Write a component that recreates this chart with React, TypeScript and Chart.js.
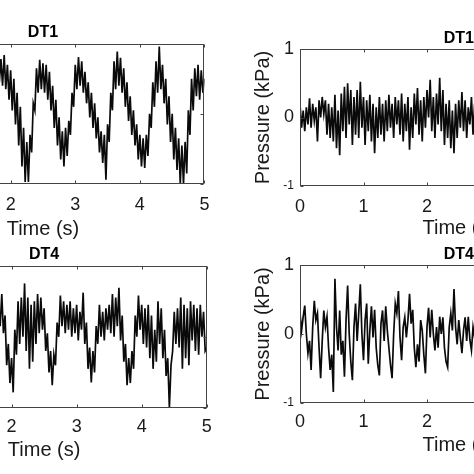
import React, { useEffect, useRef } from "react";
import { Chart, registerables } from "chart.js";

Chart.register(...registerables);

// Sampling of the pressure records (seconds)
const SAMPLE_STEP = 0.025;
const CASE_A_START = 1.8;
const CASE_B_START = 0.0;

// Axis ranges / ticks
const TIME_RANGE = [0, 5];
const PRESSURE_RANGE = [-1, 1];
const X_TITLE = "Time (s)";
const Y_TITLE = "Pressure (kPa)";

// Case A, transducer DT1 (kPa)
const dt1CaseA = [
  0.75, 0.45, 0.78, 0.4, 0.84, 0.35, 0.7, 0.2, 0.62, 0.05,
  0.5, -0.15, 0.3, -0.45, 0.1, -0.75, -0.2, -0.97, -0.4, -0.97,
  -0.3, -0.55, 0.15, 0.05, 0.65, 0.3, 0.77, 0.35, 0.72, 0.3,
  0.7, 0.2, 0.6, 0.05, 0.4, -0.2, 0.2, -0.45, -0.05, -0.65,
  -0.25, -0.75, -0.2, -0.6, -0.1, -0.3, 0.3, 0.1, 0.7, 0.35,
  0.81, 0.4, 0.75, 0.3, 0.6, 0.15, 0.45, -0.05, 0.3, -0.2,
  0.15, -0.35, -0.05, -0.55, -0.25, -0.7, -0.3, -0.94, -0.15, -0.4,
  0.3, 0.05, 0.75, 0.35, 0.89, 0.4, 0.8, 0.3, 0.65, 0.1,
  0.45, -0.1, 0.25, -0.3, 0.05, -0.45, -0.15, -0.65, -0.3, -0.75,
  -0.35, -0.77, -0.3, -0.6, 0.0, -0.2, 0.45, 0.1, 0.75, 0.3,
  0.96, 0.35, 0.7, 0.15, 0.5, -0.15, 0.25, -0.4, 0.0, -0.65,
  -0.2, -0.8, -0.35, -1.0, -0.45, -1.0, -0.4, -0.85, 0.05, -0.3,
  0.5, 0.05, 0.65, 0.25, 0.7, 0.2, 0.62, 0.3, 0.5,
];

// Case A, transducer DT4 (kPa)
const dt4CaseA = [
  0.45, 0.15, 0.6, 0.05, 0.3, -0.4, -0.1, -0.65, -0.3, -0.78,
  0.1, -0.25, 0.5, -0.1, 0.55, 0.0, 0.75, -0.2, 0.55, -0.45,
  0.45, -0.35, 0.5, -0.1, 0.6, 0.05, 0.55, 0.1, 0.4, -0.2,
  0.05, -0.5, -0.2, -0.68, -0.25, -0.4, 0.2, 0.0, 0.58, 0.15,
  0.5, 0.05, 0.45, 0.1, 0.5, 0.0, 0.4, 0.05, 0.45, -0.05,
  0.35, 0.1, 0.62, -0.1, 0.2, -0.45, -0.15, -0.64, -0.2, -0.5,
  0.15, -0.1, 0.45, 0.0, 0.35, -0.05, 0.4, 0.1, 0.45, 0.05,
  0.6, 0.0, 0.55, 0.15, 0.69, -0.05, 0.3, -0.35, -0.1, -0.68,
  -0.3, -0.65, -0.2, -0.45, 0.3, 0.0, 0.58, 0.1, 0.45, -0.1,
  0.4, -0.15, 0.45, -0.3, 0.3, -0.45, 0.1, -0.35, 0.5, -0.1,
  0.4, -0.3, 0.1, -0.55, -0.3, -1.0, -0.4, -0.2, 0.35, -0.1,
  0.4, -0.15, 0.55, -0.45, 0.45, -0.3, 0.4, -0.4, 0.5, -0.05,
  0.45, -0.2, 0.4, -0.25, 0.45, 0.0, 0.35, -0.2, -0.15,
];

// Case B, transducer DT1 (kPa)
const dt1CaseB = [
  0.2, -0.15, 0.1, -0.2, 0.15, -0.1, 0.28, -0.15, 0.2, -0.05,
  0.15, -0.35, 0.25, 0.0, 0.3, 0.05, 0.25, -0.25, 0.2, -0.3,
  0.15, -0.35, 0.33, -0.45, 0.1, -0.55, 0.35, -0.2, 0.45, -0.3,
  0.5, -0.1, 0.4, -0.4, 0.3, -0.25, 0.4, -0.3, 0.52, -0.15,
  0.3, -0.4, 0.25, -0.2, 0.33, -0.35, 0.2, -0.52, 0.15, -0.3,
  0.3, -0.25, 0.2, -0.35, 0.25, -0.2, 0.33, -0.15, 0.2, -0.3,
  0.3, -0.1, 0.25, -0.25, 0.35, -0.35, 0.2, -0.2, 0.3, -0.47,
  0.15, -0.3, 0.35, -0.1, 0.43, -0.25, 0.25, -0.35, 0.3, -0.15,
  0.4, 0.0, 0.55, -0.2, 0.3, -0.3, 0.35, -0.1, 0.58, -0.2,
  0.4, -0.4, 0.2, -0.3, 0.25, -0.45, 0.1, -0.52, 0.2, -0.3,
  0.25, -0.15, 0.37, -0.2, 0.25, -0.3, 0.15, -0.1, 0.3, -0.25,
  0.2, -0.2, 0.1,
];

// Case B, transducer DT4 (kPa)
const dt4CaseB = [
  0.3, 0.05, 0.25, 0.41, 0.0, -0.28, -0.1, -0.52, 0.1, 0.48,
  0.2, 0.3, -0.2, -0.64, -0.1, 0.34, 0.1, 0.25, -0.2, -0.52,
  -0.3, -0.84, 0.8, 0.1, -0.24, 0.34, -0.3, -0.1, -0.62, 0.2,
  0.7, 0.0, -0.4, -0.67, 0.1, 0.44, -0.1, 0.3, 0.72, 0.0,
  -0.38, 0.2, 0.44, -0.43, 0.05, 0.4, -0.05, 0.35, -0.2, -0.45,
  -0.6, 0.15, 0.34, -0.1, 0.4, 0.05, -0.2, -0.45, -0.64, 0.0,
  0.44, 0.3, 0.62, -0.05, -0.38, 0.1, 0.24, -0.05, 0.2, 0.58,
  0.15, 0.35, -0.2, -0.48, -0.15, -0.4, 0.2, 0.05, -0.3, -0.57,
  0.1, 0.38, -0.05, 0.35, 0.0, -0.24, 0.1, -0.2, 0.25, 0.0,
  0.24, -0.2, -0.4, -0.48, 0.1, 0.3, 0.05, 0.65, 0.1, -0.15,
  0.2, -0.05, -0.28, 0.05, 0.24, -0.1, 0.25, -0.08, -0.24, 0.1,
  -0.05, 0.2, -0.1,
];

const FONT = "'Liberation Sans', Arial, Helvetica, sans-serif";
const INK = "#1a1a1a";

type Panel = {
  title: string;
  values: number[];
  start: number;
  left: number;
  top: number;
  width: number;
  height: number;
  axisWidth: number;
  axisHeight: number;
  rightPad: number;
  titleTop: number;
  titleBottom: number;
  tickPad: number;
  xTitlePad: number;
};

const panels: Panel[] = [
  { title: "DT1", values: dt1CaseA, start: CASE_A_START, left: -180, top: 0, width: 400, height: 245,
    axisWidth: 61.4, axisHeight: 61, rightPad: 12, titleTop: 22.7, titleBottom: 1.8, tickPad: 10.5, xTitlePad: 4 },
  { title: "DT1", values: dt1CaseB, start: CASE_B_START, left: 237, top: 0, width: 400, height: 245,
    axisWidth: 63, axisHeight: 59, rightPad: 19.5, titleTop: 28.7, titleBottom: 1.1, tickPad: 10, xTitlePad: 5 },
  { title: "DT4", values: dt4CaseA, start: CASE_A_START, left: -180, top: 245, width: 400, height: 229,
    axisWidth: 61.4, axisHeight: 66, rightPad: 12, titleTop: 0, titleBottom: 1.4, tickPad: 8.2, xTitlePad: 12 },
  { title: "DT4", values: dt4CaseB, start: CASE_B_START, left: 237, top: 245, width: 400, height: 229,
    axisWidth: 63, axisHeight: 71, rightPad: 19.5, titleTop: 0, titleBottom: 0.7, tickPad: 8.5, xTitlePad: 17 },
];

// Boxed axes with short inward tick marks on all four sides
const boxAxes = {
  id: "boxAxes",
  afterDatasetsDraw(chart: any) {
    const { ctx, chartArea: a, scales } = chart;
    const L = Math.round(a.left) + 0.5;
    const R = Math.round(a.right) - 0.5;
    const T = Math.round(a.top) + 0.5;
    const B = Math.round(a.bottom) - 0.5;
    ctx.save();
    ctx.strokeStyle = "#444444";
    ctx.lineWidth = 1;
    ctx.strokeRect(L, T, R - L, B - T);
    ctx.beginPath();
    const len = 3;
    scales.x.ticks.forEach((t: any) => {
      const px = Math.round(scales.x.getPixelForValue(t.value)) + 0.5;
      ctx.moveTo(px, B);
      ctx.lineTo(px, B - len);
      ctx.moveTo(px, T);
      ctx.lineTo(px, T + len);
    });
    scales.y.ticks.forEach((t: any) => {
      const py = Math.round(scales.y.getPixelForValue(t.value)) + 0.5;
      ctx.moveTo(L, py);
      ctx.lineTo(L + len, py);
      ctx.moveTo(R, py);
      ctx.lineTo(R - len, py);
    });
    ctx.stroke();
    ctx.restore();
  },
};

function PressurePanel({ p }: { p: Panel }) {
  const ref = useRef<HTMLCanvasElement | null>(null);

  useEffect(() => {
    if (!ref.current) return;
    const points = p.values.map((v, i) => ({ x: p.start + i * SAMPLE_STEP, y: v }));
    const chart = new Chart(ref.current, {
      type: "line",
      data: {
        datasets: [
          {
            data: points,
            borderColor: "#0a0a0a",
            borderWidth: 1.7,
            pointRadius: 0,
            tension: 0,
          },
        ],
      },
      options: {
        animation: false,
        responsive: false,
        maintainAspectRatio: false,
        events: [],
        layout: { padding: { left: 0, right: p.rightPad, top: 0, bottom: 0 } },
        plugins: {
          legend: { display: false },
          tooltip: { enabled: false },
          title: {
            display: true,
            text: p.title,
            fullSize: false,
            color: "#000",
            font: { family: FONT, size: 16, weight: "bold", lineHeight: 1.2 },
            padding: { top: p.titleTop, bottom: p.titleBottom },
          },
        },
        scales: {
          x: {
            type: "linear",
            min: TIME_RANGE[0],
            max: TIME_RANGE[1],
            grid: { display: false, drawTicks: false },
            border: { display: false },
            ticks: {
              stepSize: 1,
              padding: p.tickPad,
              color: INK,
              font: { family: FONT, size: 18, lineHeight: 1.2 },
              maxRotation: 0,
            },
            title: {
              display: true,
              text: X_TITLE,
              color: INK,
              font: { family: FONT, size: 20, lineHeight: 1.2 },
              padding: { top: 0, bottom: p.xTitlePad },
            },
            afterFit: (s: any) => {
              s.height = p.axisHeight;
            },
          },
          y: {
            type: "linear",
            min: PRESSURE_RANGE[0],
            max: PRESSURE_RANGE[1],
            grid: { display: false, drawTicks: false },
            border: { display: false },
            ticks: {
              stepSize: 1,
              padding: 6,
              color: INK,
              font: (c: any) =>
                c.tick && c.tick.value === -1
                  ? { family: FONT, size: 12, lineHeight: 1.2 }
                  : { family: FONT, size: 18, lineHeight: 1.2 },
            },
            title: {
              display: true,
              text: Y_TITLE,
              color: INK,
              font: { family: FONT, size: 20, lineHeight: 1.2 },
              padding: { top: 14, bottom: 0 },
            },
            afterFit: (s: any) => {
              s.width = p.axisWidth;
            },
          },
        },
      },
      plugins: [boxAxes],
    } as any);
    return () => chart.destroy();
  }, [p]);

  return (
    <canvas
      ref={ref}
      width={p.width}
      height={p.height}
      style={{ position: "absolute", left: p.left, top: p.top, width: p.width, height: p.height, display: "block" }}
    />
  );
}

export default function App() {
  return (
    <div
      style={{
        position: "fixed",
        left: 0,
        top: 0,
        width: 474,
        height: 474,
        overflow: "hidden",
        background: "#fff",
      }}
    >
      {panels.map((p, i) => (
        <PressurePanel key={i} p={p} />
      ))}
    </div>
  );
}
